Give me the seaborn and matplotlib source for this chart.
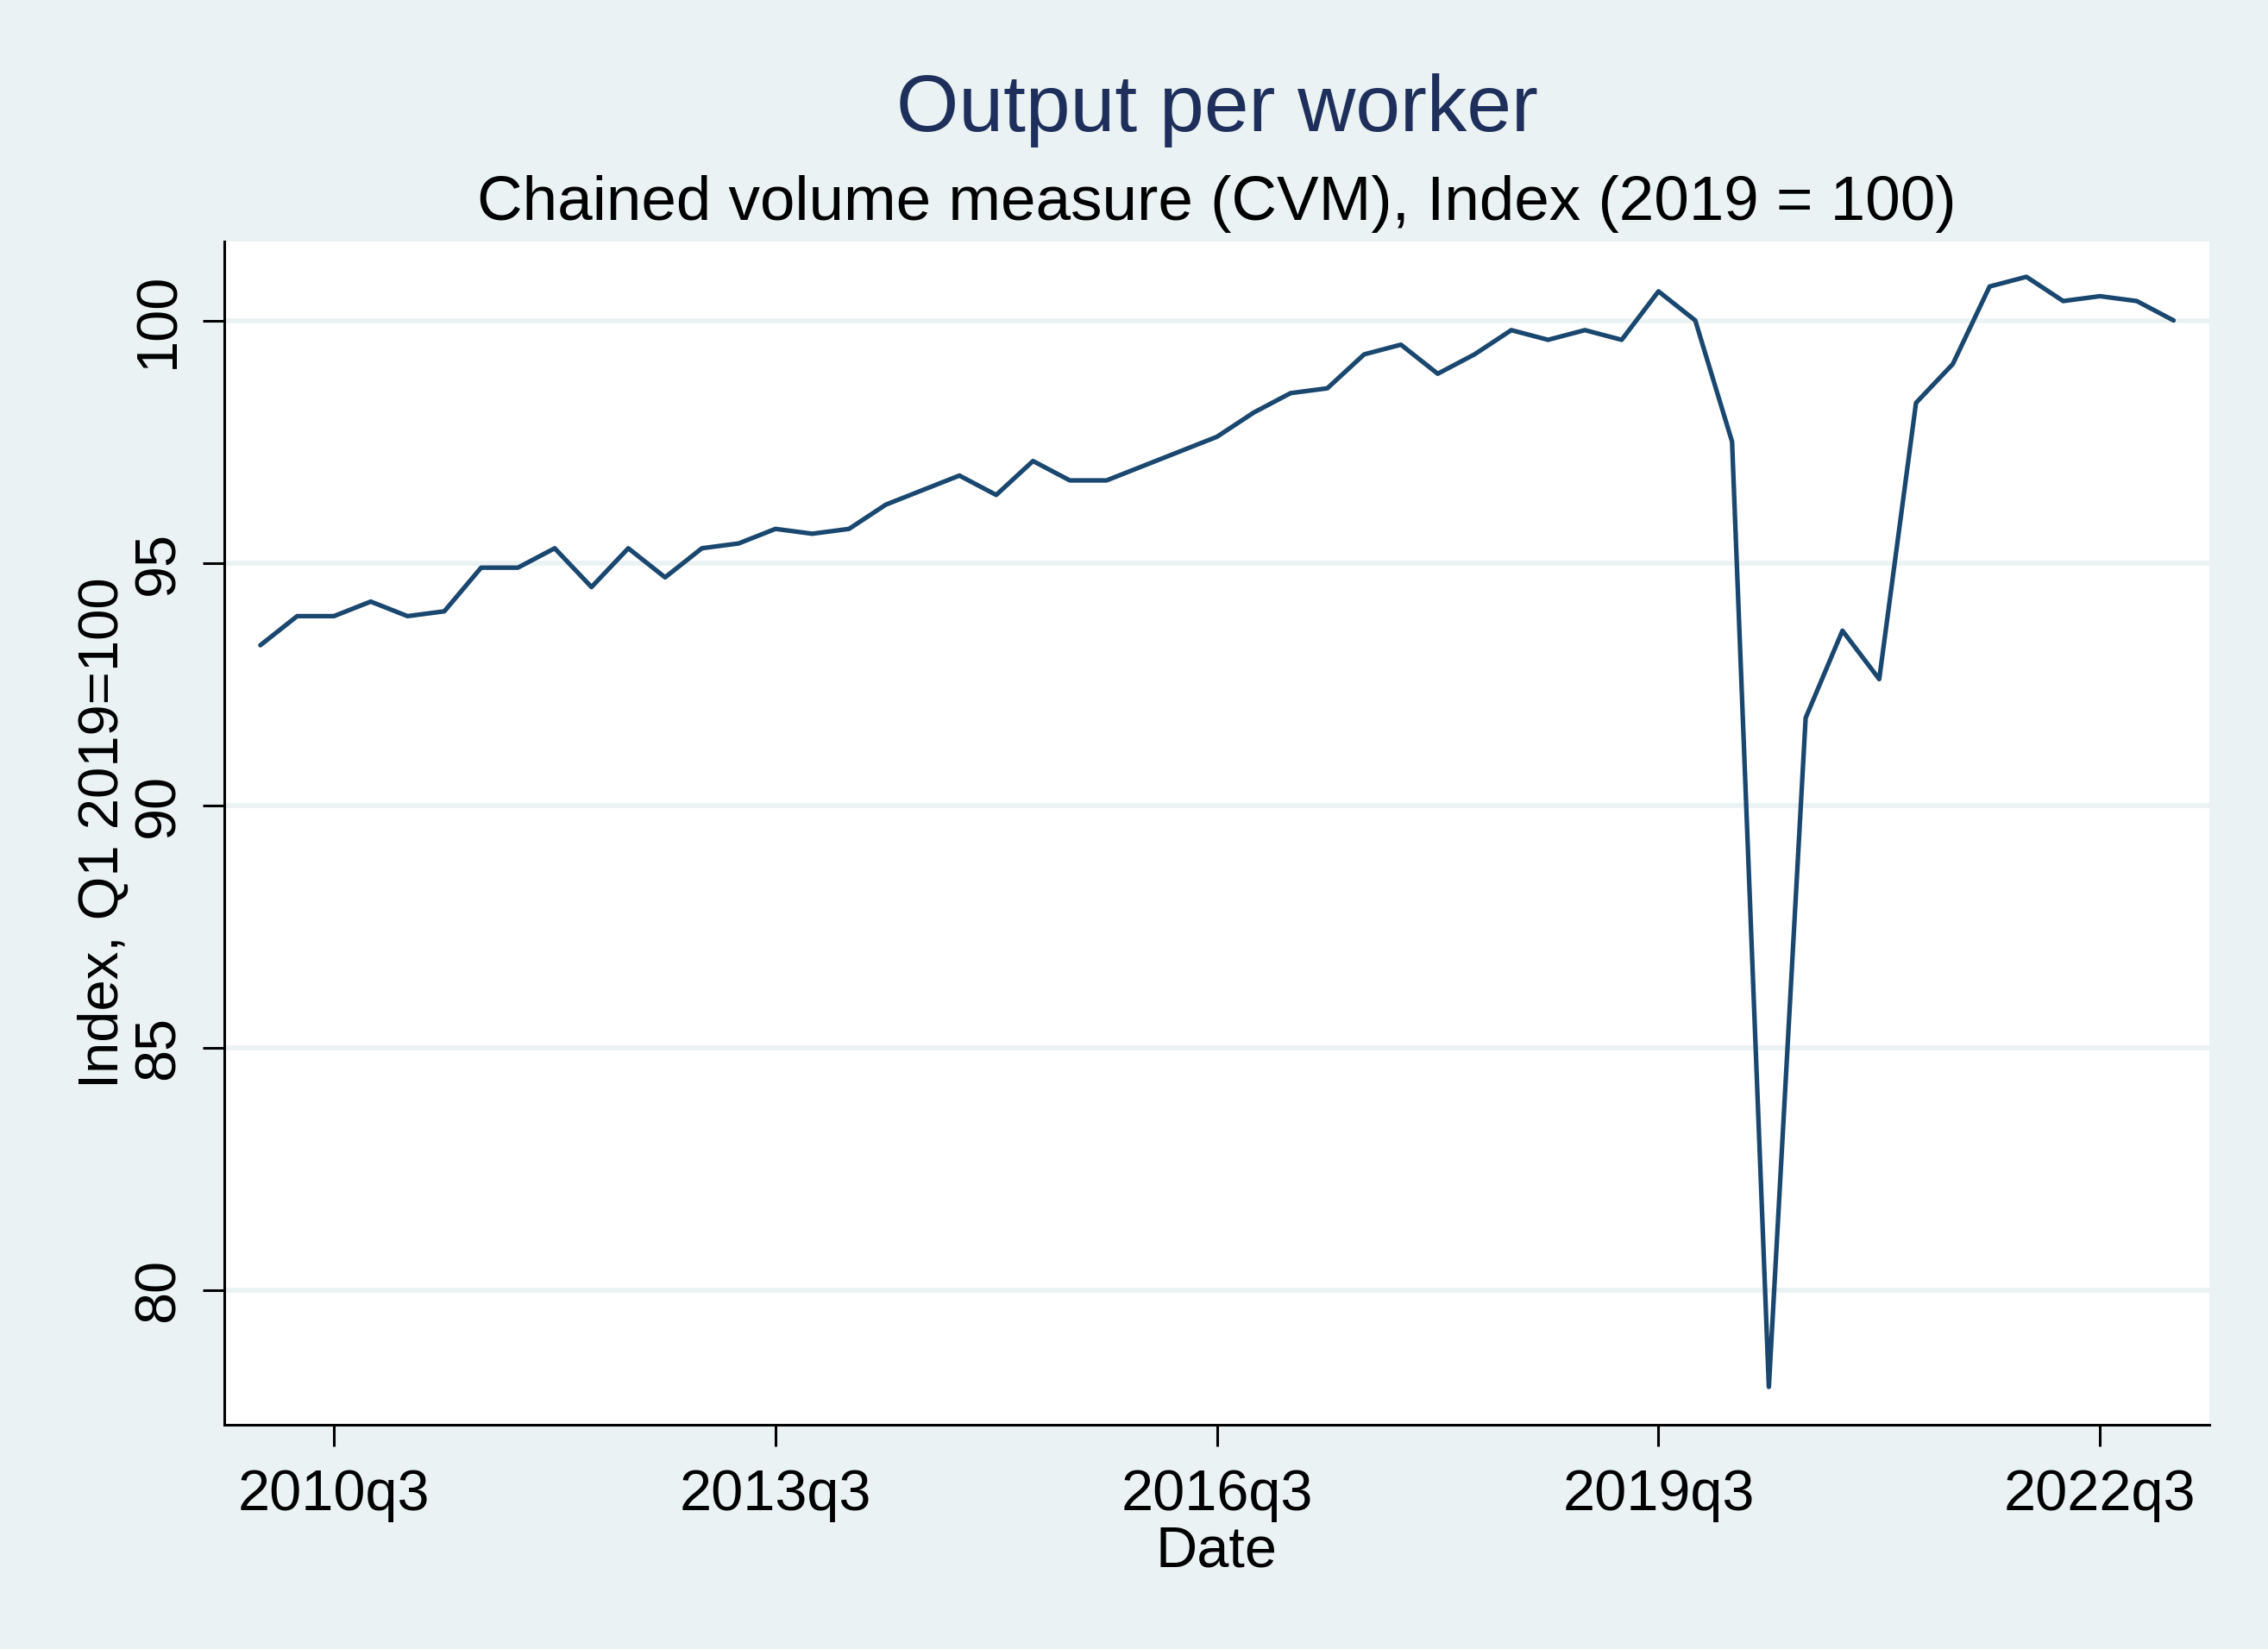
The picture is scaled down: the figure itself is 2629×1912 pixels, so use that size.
import matplotlib

matplotlib.use("Agg")
import matplotlib.pyplot as plt
import pandas as pd
import seaborn as sns


# quarterly series, 2010q1 .. 2023q1
start_year = 2010
output_index = [
    93.3, 93.9, 93.9, 94.2, 93.9, 94.0, 94.9, 94.9, 95.3, 94.5,
    95.3, 94.7, 95.3, 95.4, 95.7, 95.6, 95.7, 96.2, 96.5, 96.8,
    96.4, 97.1, 96.7, 96.7, 97.0, 97.3, 97.6, 98.1, 98.5, 98.6,
    99.3, 99.5, 98.9, 99.3, 99.8, 99.6, 99.8, 99.6, 100.6, 100.0,
    97.5, 78.0, 91.8, 93.6, 92.6, 98.3, 99.1, 100.7, 100.9, 100.4,
    100.5, 100.4, 100.0,
]
x_tick_labels = ["2010q3", "2013q3", "2016q3", "2019q3", "2022q3"]
y_ticks = [80, 85, 90, 95, 100]

BG = "#EAF2F3"
LINE = "#1A476F"
TITLE = "#1E2F5B"


def quarter_label(i):
    return f"{start_year + i // 4}q{i % 4 + 1}"


df = pd.DataFrame({"t": range(len(output_index)), "value": output_index})
df["quarter"] = [quarter_label(i) for i in df["t"]]

sns.set_theme(style="white")
plt.rcParams["font.family"] = ["Liberation Sans", "DejaVu Sans"]

fig = plt.figure(figsize=(26.29, 19.12), dpi=100, facecolor=BG)
ax = fig.add_axes([0.0989, 0.1360, 0.8752, 0.7176])
ax.set_facecolor("white")

sns.lineplot(data=df, x="t", y="value", ax=ax, color=LINE, linewidth=3.8,
             solid_joinstyle="round", solid_capstyle="round")

tick_pos = [df.loc[df["quarter"] == q, "t"].iloc[0] for q in x_tick_labels]
ax.set_xticks(tick_pos)
ax.set_xticklabels(x_tick_labels)
ax.set_yticks(y_ticks)
ax.set_xlim(-0.98, 52.97)
ax.set_ylim(77.22, 101.63)

ax.set_axisbelow(True)
ax.yaxis.grid(True, color=BG, linewidth=4)
ax.xaxis.grid(False)

for side in ["top", "right"]:
    ax.spines[side].set_visible(False)
for side in ["left", "bottom"]:
    ax.spines[side].set_color("black")
    ax.spines[side].set_linewidth(2.2)

ax.tick_params(axis="both", direction="out", length=18, width=2.2,
               color="black", labelsize=48, labelcolor="black")
ax.tick_params(axis="x", pad=19, bottom=True)
ax.tick_params(axis="y", pad=14, left=True, labelrotation=90)
for lbl in ax.get_yticklabels():
    lbl.set_verticalalignment("center")

ax.set_xlabel("Date", fontsize=48, color="black")
ax.set_ylabel("Index, Q1 2019=100", fontsize=47, color="black")
ax.xaxis.set_label_coords(0.5, -0.085)
ax.yaxis.set_label_coords(-0.048, 0.5)

cx = 0.0989 + 0.8752 / 2
fig.text(cx, 0.933, "Output per worker", ha="center", va="center",
         fontsize=67, color=TITLE)
fig.text(cx, 0.8765, "Chained volume measure (CVM), Index (2019 = 100)",
         ha="center", va="center", fontsize=52.5, color="black")

fig.savefig("out.png", dpi=100, facecolor=BG)
plt.close(fig)
